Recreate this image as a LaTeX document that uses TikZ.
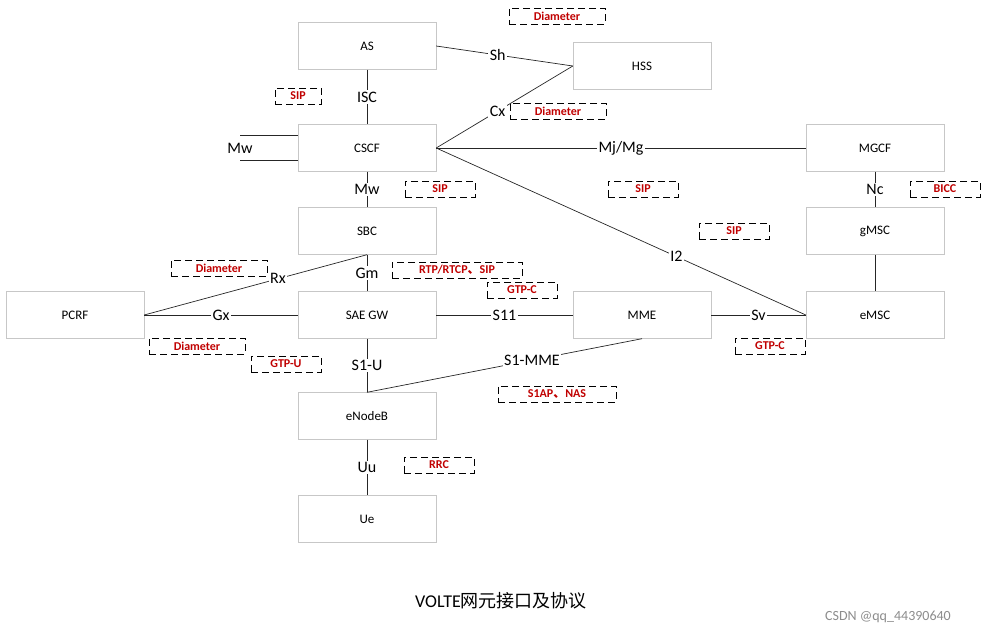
\documentclass[tikz,border=0pt]{standalone}
\usepackage{fontspec}
\setmainfont{Carlito}
\newfontfamily\cjk{Noto Sans CJK SC}
\definecolor{pr}{RGB}{192,0,0}
\begin{document}
\begin{tikzpicture}[x=1pt,y=-1pt,
 ne/.style={draw=black!22,fill=white,minimum width=138pt,minimum height=47pt,font=\fontsize{13}{15}\selectfont},
 lb/.style={fill=white,inner sep=1.5pt,font=\fontsize{16}{18}\selectfont},
 pb/.style={draw=black,dashed,thick,dash pattern=on 7pt off 4pt,minimum height=16pt,inner sep=0pt,text=pr,font=\bfseries\fontsize{12}{14}\selectfont},
 ln/.style={draw=black!85,line width=0.7pt}]
\useasboundingbox (0,0) rectangle (989,636);
\node[ne] (as) at (367,46) {AS};
\node[ne] (hss) at (642,66) {HSS};
\node[ne] (cscf) at (367,148) {CSCF};
\node[ne] (mgcf) at (875,148) {MGCF};
\node[ne] (sbc) at (367,231) {SBC};
\node[ne] (gmsc) at (875,231) {gMSC};
\node[ne] (pcrf) at (75,315) {PCRF};
\node[ne] (sae) at (367,315) {SAE GW};
\node[ne] (mme) at (642,315) {MME};
\node[ne] (emsc) at (875,315) {eMSC};
\node[ne] (enb) at (367,416) {eNodeB};
\node[ne] (ue) at (367,519) {Ue};
\coordinate (mwa) at (240,135);
\coordinate (mwb) at (240,160);
\draw[ln] (as) -- node[lb]{ISC} (cscf);
\draw[ln] (as.east) -- node[lb,pos=0.45]{Sh} (hss.west);
\draw[ln] (cscf.east) -- node[lb,pos=0.45]{Cx} (hss.west);
\draw[ln] (cscf.east) -- node[lb,pos=0.5]{Mj/Mg} (mgcf.west);
\draw[ln] (cscf.east) -- node[lb,pos=0.65]{I2} (emsc.west);
\draw[ln] (cscf.west |- mwa) -- (mwa);
\draw[ln] (cscf.west |- mwb) -- (mwb);
\node[lb,fill=none] (mwl) at (240,148) {Mw};
\draw[ln] (cscf) -- node[lb]{Mw} (sbc);
\draw[ln] (sbc.south) -- node[lb,pos=0.4]{Rx} (pcrf.east);
\draw[ln] (sbc) -- node[lb]{Gm} (sae);
\draw[ln] (pcrf) -- node[lb]{Gx} (sae);
\draw[ln] (sae) -- node[lb]{S11} (mme);
\draw[ln] (mme) -- node[lb]{Sv} (emsc);
\draw[ln] (mgcf) -- node[lb]{Nc} (gmsc);
\draw[ln] (gmsc) -- (emsc);
\draw[ln] (sae) -- node[lb]{S1-U} (enb);
\draw[ln] (mme.south) -- node[lb,pos=0.4]{S1-MME} (enb.north);
\draw[ln] (enb) -- node[lb]{Uu} (ue);
\node[pb,minimum width=96pt] (p1) at (557,16) {Diameter};
\node[pb,minimum width=46pt] (p2) at (298,96) {SIP};
\node[pb,minimum width=96pt] (p3) at (558,111) {Diameter};
\node[pb,minimum width=70pt] (p4) at (440,189) {SIP};
\node[pb,minimum width=70pt] (p5) at (643,189) {SIP};
\node[pb,minimum width=70pt] (p6) at (945,189) {BICC};
\node[pb,minimum width=70pt] (p7) at (734,231) {SIP};
\node[pb,minimum width=96pt] (p8) at (219,268) {Diameter};
\node[pb,minimum width=130pt] (p9) at (457,270) {RTP/RTCP{\cjk 、}SIP};
\node[pb,minimum width=70pt] (p10) at (522,290) {GTP-C};
\node[pb,minimum width=96pt] (p11) at (197,346) {Diameter};
\node[pb,minimum width=70pt] (p12) at (286,364) {GTP-U};
\node[pb,minimum width=70pt] (p13) at (770,346) {GTP-C};
\node[pb,minimum width=118pt] (p14) at (557,394) {S1AP{\cjk 、}NAS};
\node[pb,minimum width=70pt] (p15) at (439,465) {RRC};
\node[font=\fontsize{18}{20}\selectfont] (title) at (501,601) {VOLTE{\cjk 网元接口及协议}};
\node[text=black!45,font=\fontsize{14}{16}\selectfont] (wm) at (888,617) {CSDN @qq\_44390640};
\end{tikzpicture}
\end{document}
